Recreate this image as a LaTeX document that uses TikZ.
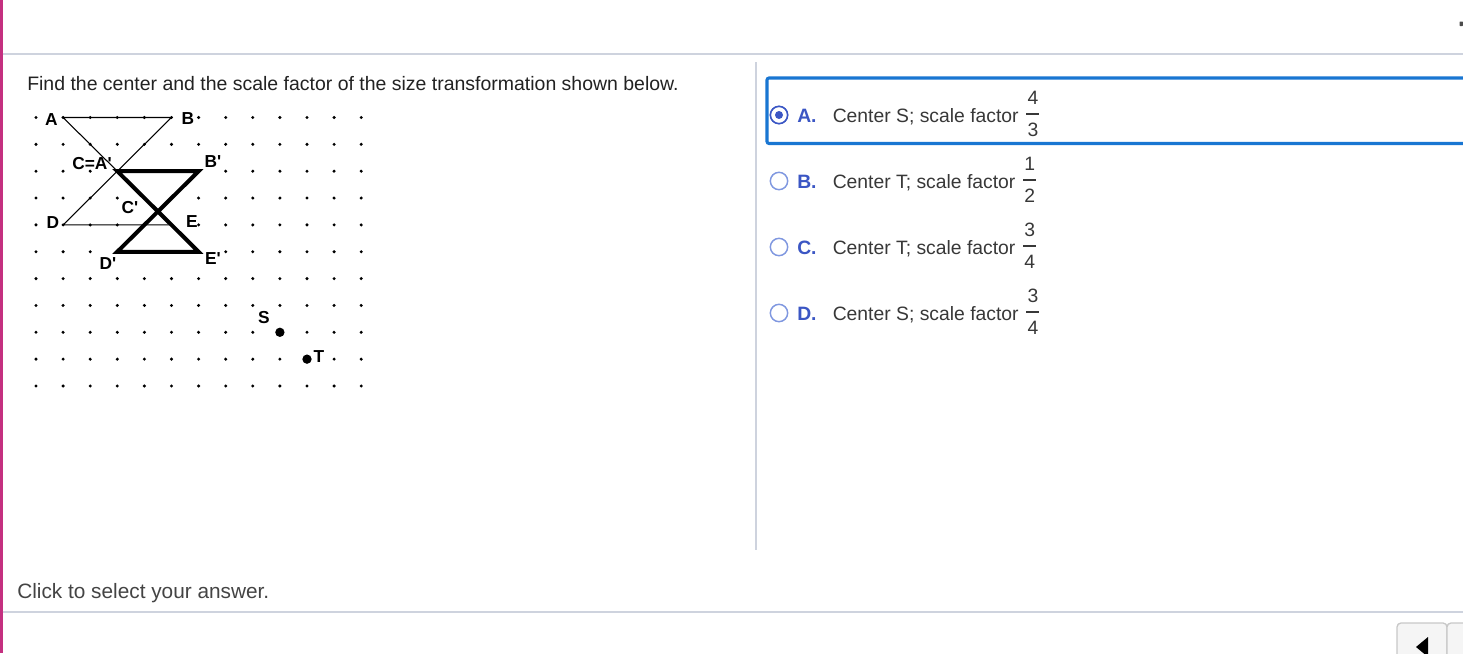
\documentclass[tikz,border=0pt]{standalone}
\usepackage{fontspec}
\setmainfont{Liberation Sans}
\usetikzlibrary{positioning, calc}
\definecolor{pinkedge}{RGB}{196, 48, 128}
\definecolor{rulegray}{RGB}{206, 211, 222}
\definecolor{selblue}{RGB}{25, 118, 210}
\definecolor{optblue}{RGB}{59, 86, 196}
\definecolor{radioblue}{RGB}{128, 152, 224}
\definecolor{textdark}{RGB}{34, 34, 34}
\definecolor{textgray}{RGB}{68, 68, 68}
\definecolor{btnline}{RGB}{200, 200, 200}
\definecolor{btnfill}{RGB}{245, 245, 245}

\begin{document}
\begin{tikzpicture}[x=0.75pt, y=-0.75pt,
  qtext/.style={font=\fontsize{14.6}{17}\selectfont, text=textdark, inner sep=0pt, anchor=base west},
  ptlabel/.style={font=\fontsize{13}{15}\selectfont\bfseries, inner sep=0pt},
  griddot/.style={fill=black},
  thinside/.style={line width=0.8pt},
  thickside/.style={line width=3pt, line join=miter},
  centerdot/.style={circle, fill=black, inner sep=0pt, minimum size=7pt},
  rulerline/.style={draw=rulegray, line width=1.4pt},
  radio/.style={circle, draw=radioblue, line width=1.1pt, minimum size=13pt, inner sep=0pt},
  optletter/.style={font=\fontsize{14.5}{17}\selectfont\bfseries, text=optblue, inner sep=0pt, anchor=base west},
  opttext/.style={font=\fontsize{14.5}{17}\selectfont, text=textdark!90, inner sep=0pt, anchor=base west},
  fracdigit/.style={font=\fontsize{14.5}{17}\selectfont, text=textdark!90, inner sep=0pt},
  fracbar/.style={draw=textdark!90, line width=1.1pt},
  navbutton/.style={draw=btnline, fill=btnfill, rounded corners=3pt, line width=1pt}]

  % Page
  \useasboundingbox (0,0) rectangle (1463,653);
  \fill[white] (0,0) rectangle (1463,653);
  \fill[pinkedge] (0,0) rectangle (2.5,653);
  \fill[black!70, rounded corners=0.5pt] (1459.5,21.5) rectangle (1463,26);
  \draw[rulerline] (2.5,54) -- (1463,54);
  \draw[rulerline] (2.5,612) -- (1463,612);
  \draw[draw=rulegray, line width=1.2pt] (756,62) -- (756,550);

  % Question
  \node[qtext] (question) at (27,90) {Find the center and the scale factor of the size transformation shown below.};
  \node[qtext, text=textgray, font=\fontsize{15.6}{18}\selectfont] (hint) at (17,598) {Click to select your answer.};

  % Dot grid and figures
  \begin{scope}[xshift=27pt, yshift=-88.125pt, x=20.325pt, y=-20.1375pt]
    \foreach \i in {0,...,12}
      \foreach \j in {0,...,10}
        \fill[griddot] (\i,\j) circle (1.25pt);
    \coordinate (A) at (1,0);
    \coordinate (B) at (5,0);
    \coordinate (D) at (1,4);
    \coordinate (E) at (5,4);
    \coordinate (Ap) at (3,2);
    \coordinate (Bp) at (6,2);
    \coordinate (Dp) at (3,5);
    \coordinate (Ep) at (6,5);
    \draw[thinside] (A) -- (B) -- (D) -- (E) -- cycle;
    \draw[thickside] (Ap) -- (Bp) -- (Dp) -- (Ep) -- cycle;
    \node[centerdot] (S) at (9,8) {};
    \node[centerdot] (T) at (10,9) {};
  \end{scope}

  % Point labels
  \node[ptlabel] (labA) at (51.5,119.5) {A};
  \node[ptlabel] (labB) at (188,119) {B};
  \node[ptlabel] (labC) at (92,164) {C=A\textquotesingle};
  \node[ptlabel] (labBp) at (213,162) {B\textquotesingle};
  \node[ptlabel] (labCp) at (130,208) {C\textquotesingle};
  \node[ptlabel] (labD) at (53,223) {D};
  \node[ptlabel] (labE) at (192,221.5) {E};
  \node[ptlabel] (labDp) at (108,264) {D\textquotesingle};
  \node[ptlabel] (labEp) at (213,259) {E\textquotesingle};
  \node[ptlabel] (labS) at (264,318) {S};
  \node[ptlabel] (labT) at (319,357) {T};

  % Answer choices
  \draw[selblue, line width=2.3pt, rounded corners=1.5pt] (767,78) rectangle (1475,143.5);
  \foreach \ltr/\ctr/\num/\den/\yy in {A/S/4/3/122.5, B/T/1/2/188.5, C/T/3/4/254.5, D/S/3/4/320.5} {
    \node[radio] (radio\ltr) at (779,\yy-7.5) {};
    \node[optletter] (letter\ltr) at (797,\yy) {\ltr.};
    \node[opttext] (opt\ltr) at (832.5,\yy) {Center \ctr; scale factor};
    \coordinate (bar\ltr) at ($(opt\ltr.base east)+(14,-8.5)$);
    \draw[fracbar] ($(bar\ltr)+(-6.5,0)$) -- ($(bar\ltr)+(6.5,0)$);
    \node[fracdigit] (num\ltr) at ($(bar\ltr)+(0,-16)$) {\num};
    \node[fracdigit] (den\ltr) at ($(bar\ltr)+(0,16)$) {\den};
  }
  \node[radio, draw=optblue] (radioAsel) at (radioA) {};
  \fill[optblue] (radioAsel.center) circle (3pt);

  % Navigation
  \draw[navbutton] (1397,623) rectangle (1447,670);
  \draw[navbutton] (1447,623) rectangle (1490,670);
  \fill[black] (1416,647) -- (1428,637) -- (1428,657) -- cycle;
\end{tikzpicture}
\end{document}
